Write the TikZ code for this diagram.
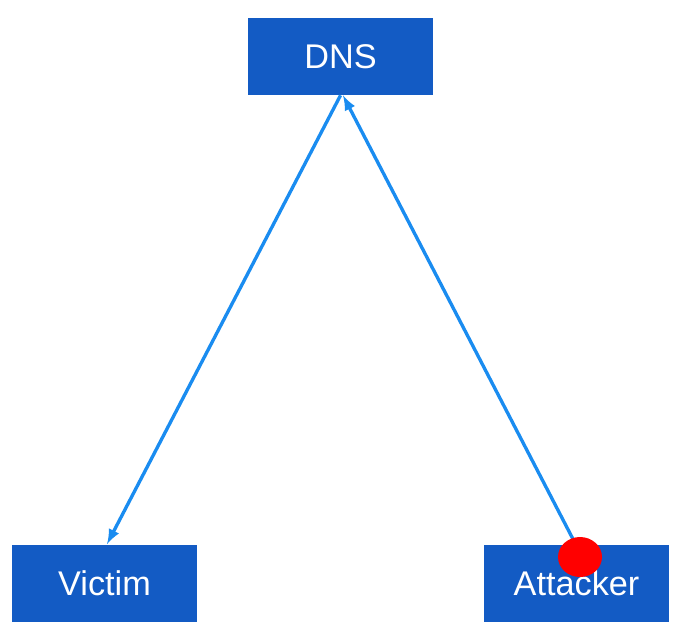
\documentclass[tikz,border=0pt]{standalone}
\usepackage{fontspec}
\setmainfont{Liberation Sans}
\usetikzlibrary{positioning}
\definecolor{boxblue}{HTML}{135BC4}
\definecolor{lineblue}{HTML}{1A8CF0}
\begin{document}
\begin{tikzpicture}[x=0.02cm,y=-0.02cm]
    \useasboundingbox (0,0) rectangle (685,636);

    \begin{scope}[every node/.style={rectangle,fill=boxblue,text=white,minimum width=3.7cm,minimum height=1.54cm,inner sep=0pt,font=\fontsize{19.5}{22}\selectfont}]
        \node (dns) at (340.5,56.5) {DNS};
        \node (victim) at (104.5,583) {Victim};
        \node (attacker) at (576.5,583) {Attacker};
    \end{scope}

    \coordinate (from) at (575,543);
    \begin{scope}[every edge/.style={draw=lineblue,line width=1.9pt}]
        \path [-latex] (dns.south) edge ([xshift=0.05cm]victim.north);
        \path [-latex] (from) edge ([xshift=0.05cm]dns.south);
    \end{scope}

    \fill[red] (580,557) ellipse (22 and 20);

\end{tikzpicture}
\end{document}
